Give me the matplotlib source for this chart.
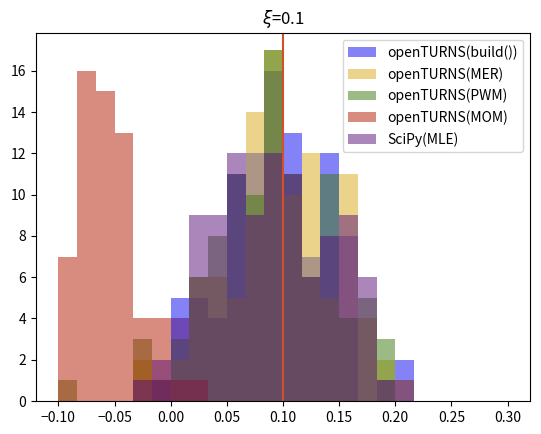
import numpy as np
import matplotlib
matplotlib.use('Agg')
import matplotlib.pyplot as plt

plt.rcParams['font.family'] = ['Noto Sans CJK JP', 'DejaVu Sans']
plt.rcParams['mathtext.fontset'] = 'dejavusans'

# bin edges of the histograms (24 bins from -0.1 to 0.3)
bin_edges = np.linspace(-0.1, 0.3, 25)
xi_true = 0.1

labels = ['openTURNS(build())', 'openTURNS(MER)', 'openTURNS(PWM)',
          'openTURNS(MOM)', 'SciPy(MLE)']
colors = ['#0909f1', '#d9a919', '#3b770f', '#b31b01', '#590f79']

# counts per bin
counts_build = [0, 0, 0, 0, 0, 1, 5, 5, 4, 11, 12, 16, 13, 7, 12, 8, 0, 1, 2, 0, 0, 0, 0, 0]
counts_mer = [0, 0, 0, 0, 2, 0, 2, 6, 6, 5, 14, 17, 10, 12, 5, 11, 4, 2, 1, 0, 0, 0, 0, 0]
counts_pwm = [1, 0, 0, 0, 3, 1, 3, 6, 8, 11, 10, 17, 11, 6, 11, 4, 5, 3, 0, 0, 0, 0, 0, 0]
counts_mom = [7, 16, 15, 13, 4, 4, 1, 1, 0, 0, 0, 0, 0, 0, 0, 0, 0, 0, 0, 0, 0, 0, 0, 0]
counts_mle = [0, 0, 0, 0, 1, 2, 4, 9, 9, 12, 9, 12, 11, 6, 8, 9, 6, 1, 1, 0, 0, 0, 0, 0]

all_counts = [counts_build, counts_mer, counts_pwm, counts_mom, counts_mle]

fig = plt.figure(figsize=(5.41, 4.34), dpi=100)
ax = fig.add_axes([0.0665, 0.076, 0.9132, 0.8487])

for cnt, lab, col in zip(all_counts, labels, colors):
    ax.hist(bin_edges[:-1], bins=bin_edges, weights=cnt, color=col, alpha=0.5, label=lab)

ax.axvline(xi_true, color='#d4502c', linewidth=1.5)
ax.set_title(r'$\xi$=0.1')
ax.legend(loc='upper right')

fig.savefig('out.png', dpi=100)
